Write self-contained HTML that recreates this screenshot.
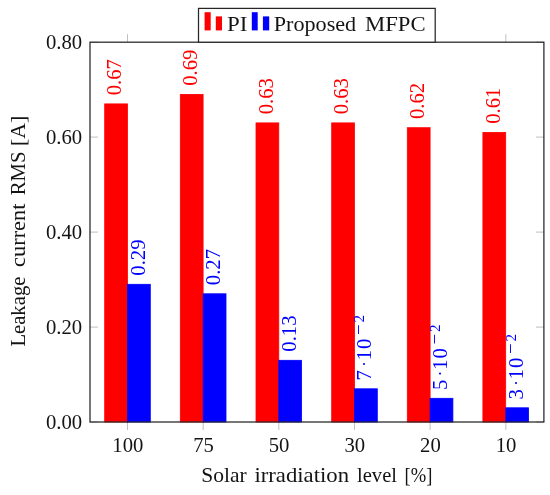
<!DOCTYPE html>
<html><head><meta charset="utf-8"><title>Leakage current RMS</title>
<style>
html,body{margin:0;padding:0;background:#fff;}
svg{display:block;}
text{font-family:"Liberation Serif","DejaVu Serif",serif;font-size:20.7px;fill:#141414;}
.r{fill:#ff0000;} .b{fill:#0000ff;}
</style></head><body>
<svg width="550" height="495" viewBox="0 0 550 495">
<rect width="550" height="495" fill="#fff"/>
<g stroke="#8c8c8c" stroke-width="0.55">
<line x1="127.5" y1="34.2" x2="127.5" y2="42.2"/><line x1="127.5" y1="422.0" x2="127.5" y2="430.0"/>
<line x1="203.2" y1="34.2" x2="203.2" y2="42.2"/><line x1="203.2" y1="422.0" x2="203.2" y2="430.0"/>
<line x1="278.8" y1="34.2" x2="278.8" y2="42.2"/><line x1="278.8" y1="422.0" x2="278.8" y2="430.0"/>
<line x1="354.5" y1="34.2" x2="354.5" y2="42.2"/><line x1="354.5" y1="422.0" x2="354.5" y2="430.0"/>
<line x1="430.1" y1="34.2" x2="430.1" y2="42.2"/><line x1="430.1" y1="422.0" x2="430.1" y2="430.0"/>
<line x1="505.8" y1="34.2" x2="505.8" y2="42.2"/><line x1="505.8" y1="422.0" x2="505.8" y2="430.0"/>
<line x1="90.0" y1="422.0" x2="98.0" y2="422.0"/><line x1="535.9" y1="422.0" x2="543.9" y2="422.0"/>
<line x1="90.0" y1="327.1" x2="98.0" y2="327.1"/><line x1="535.9" y1="327.1" x2="543.9" y2="327.1"/>
<line x1="90.0" y1="232.1" x2="98.0" y2="232.1"/><line x1="535.9" y1="232.1" x2="543.9" y2="232.1"/>
<line x1="90.0" y1="137.1" x2="98.0" y2="137.1"/><line x1="535.9" y1="137.1" x2="543.9" y2="137.1"/>
<line x1="90.0" y1="42.2" x2="98.0" y2="42.2"/><line x1="535.9" y1="42.2" x2="543.9" y2="42.2"/>
</g>
<rect class="r" stroke="#ff0000" stroke-width="0.8" x="104.7" y="103.9" width="22.8" height="318.1"/>
<rect class="b" stroke="#0000ff" stroke-width="0.8" x="127.5" y="284.3" width="22.8" height="137.7"/>
<rect class="r" stroke="#ff0000" stroke-width="0.8" x="180.3" y="94.4" width="22.8" height="327.6"/>
<rect class="b" stroke="#0000ff" stroke-width="0.8" x="203.2" y="293.8" width="22.8" height="128.2"/>
<rect class="r" stroke="#ff0000" stroke-width="0.8" x="256.0" y="122.9" width="22.8" height="299.1"/>
<rect class="b" stroke="#0000ff" stroke-width="0.8" x="278.8" y="360.3" width="22.8" height="61.7"/>
<rect class="r" stroke="#ff0000" stroke-width="0.8" x="331.7" y="122.9" width="22.8" height="299.1"/>
<rect class="b" stroke="#0000ff" stroke-width="0.8" x="354.5" y="388.8" width="22.8" height="33.2"/>
<rect class="r" stroke="#ff0000" stroke-width="0.8" x="407.3" y="127.7" width="22.8" height="294.3"/>
<rect class="b" stroke="#0000ff" stroke-width="0.8" x="430.1" y="398.3" width="22.8" height="23.7"/>
<rect class="r" stroke="#ff0000" stroke-width="0.8" x="482.9" y="132.4" width="22.8" height="289.6"/>
<rect class="b" stroke="#0000ff" stroke-width="0.8" x="505.8" y="407.8" width="22.8" height="14.2"/>
<rect x="90.0" y="42.2" width="453.9" height="379.8" fill="none" stroke="#262626" stroke-width="1.25"/>
<text class="r" transform="translate(121.4,95.3) rotate(-90)">0.67</text>
<text class="b" transform="translate(144.5,275.7) rotate(-90)">0.29</text>
<text class="r" transform="translate(197.0,85.8) rotate(-90)">0.69</text>
<text class="b" transform="translate(220.1,285.2) rotate(-90)">0.27</text>
<text class="r" transform="translate(272.6,114.3) rotate(-90)">0.63</text>
<text class="b" transform="translate(295.8,351.7) rotate(-90)">0.13</text>
<text class="r" transform="translate(348.3,114.3) rotate(-90)">0.63</text>
<text class="b" transform="translate(371.4,380.6) rotate(-90)"><tspan x="0">7</tspan><tspan x="13.9" dy="-1" font-size="17">·</tspan><tspan x="20.4" dy="1">1</tspan><tspan x="31.6">0</tspan><tspan x="45.6" dy="-6.1" font-size="19">−</tspan><tspan x="58.2" dy="-1" font-size="15">2</tspan></text>
<text class="r" transform="translate(423.9,119.1) rotate(-90)">0.62</text>
<text class="b" transform="translate(447.1,390.1) rotate(-90)"><tspan x="0">5</tspan><tspan x="13.9" dy="-1" font-size="17">·</tspan><tspan x="20.4" dy="1">1</tspan><tspan x="31.6">0</tspan><tspan x="45.6" dy="-6.1" font-size="19">−</tspan><tspan x="58.2" dy="-1" font-size="15">2</tspan></text>
<text class="r" transform="translate(499.6,123.8) rotate(-90)">0.61</text>
<text class="b" transform="translate(522.7,399.6) rotate(-90)"><tspan x="0">3</tspan><tspan x="13.9" dy="-1" font-size="17">·</tspan><tspan x="20.4" dy="1">1</tspan><tspan x="31.6">0</tspan><tspan x="45.6" dy="-6.1" font-size="19">−</tspan><tspan x="58.2" dy="-1" font-size="15">2</tspan></text>
<text x="82.1" y="429.0" text-anchor="end">0.00</text>
<text x="82.1" y="334.1" text-anchor="end">0.20</text>
<text x="82.1" y="239.1" text-anchor="end">0.40</text>
<text x="82.1" y="144.1" text-anchor="end">0.60</text>
<text x="82.1" y="49.2" text-anchor="end">0.80</text>
<text x="127.8" y="451.6" text-anchor="middle">100</text>
<text x="203.5" y="451.6" text-anchor="middle">75</text>
<text x="279.1" y="451.6" text-anchor="middle">50</text>
<text x="354.8" y="451.6" text-anchor="middle">30</text>
<text x="430.4" y="451.6" text-anchor="middle">20</text>
<text x="506.1" y="451.6" text-anchor="middle">10</text>
<text y="481.8"><tspan x="201.2" textLength="45.4" lengthAdjust="spacingAndGlyphs">Solar</tspan> <tspan x="254.4" textLength="94.6" lengthAdjust="spacingAndGlyphs">irradiation</tspan> <tspan x="357.0" textLength="40.0" lengthAdjust="spacingAndGlyphs">level</tspan> <tspan x="404.6" textLength="27.8" lengthAdjust="spacingAndGlyphs">[%]</tspan></text>
<text transform="translate(24.6,346.6) rotate(-90)"><tspan x="0.0" textLength="70.0" lengthAdjust="spacingAndGlyphs">Leakage</tspan> <tspan x="79.6" textLength="63.5" lengthAdjust="spacingAndGlyphs">current</tspan> <tspan x="151.3" textLength="43.8" lengthAdjust="spacingAndGlyphs">RMS</tspan> <tspan x="200.6" textLength="30.2" lengthAdjust="spacingAndGlyphs">[A]</tspan></text>
<rect x="198.5" y="8.4" width="236.7" height="33.8" fill="#fff" stroke="#262626" stroke-width="1.25"/>
<rect class="r" x="204.6" y="12.2" width="6.1" height="18.2"/><rect class="r" x="215.8" y="16.4" width="6.2" height="14"/>
<rect class="b" x="251.8" y="12.2" width="5.9" height="18.2"/><rect class="b" x="262.9" y="16.4" width="6.3" height="14"/>
<text y="31"><tspan x="227" textLength="20.4" lengthAdjust="spacingAndGlyphs">PI</tspan></text>
<text y="31"><tspan x="273.8" textLength="82.4" lengthAdjust="spacingAndGlyphs">Proposed</tspan> <tspan x="365.0" textLength="60.6" lengthAdjust="spacingAndGlyphs">MFPC</tspan></text>
</svg></body></html>
